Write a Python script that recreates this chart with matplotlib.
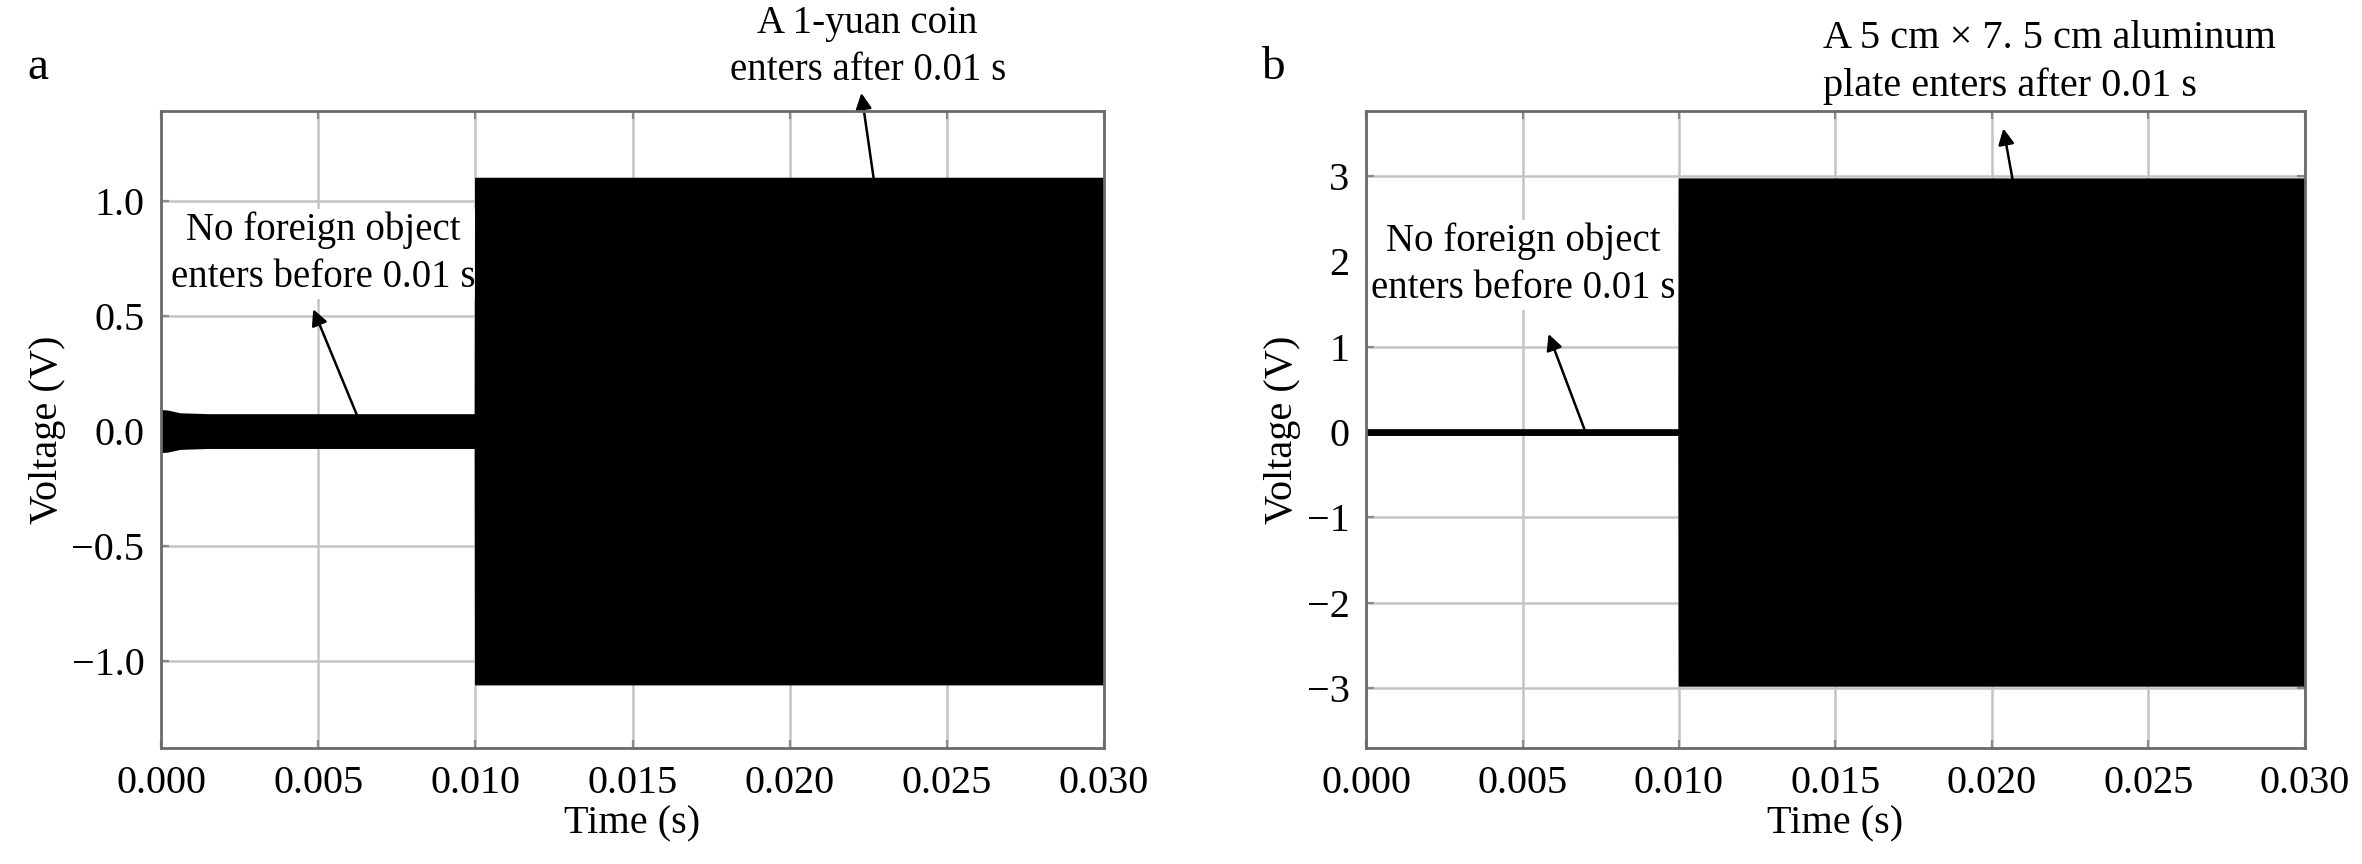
import matplotlib
matplotlib.use("Agg")
import matplotlib.pyplot as plt
import numpy as np

plt.rcParams["font.family"] = ["Liberation Serif", "DejaVu Serif"]
plt.rcParams["font.size"] = 14

t_coin = [0.0, 0.0002, 0.0006, 0.0015, 0.00999, 0.01, 0.03]
v_coin_hi = [0.09, 0.088, 0.076, 0.072, 0.072, 1.10, 1.10]
v_coin_lo = [-0.09, -0.088, -0.076, -0.072, -0.072, -1.10, -1.10]

t_plate = [0.0, 0.00999, 0.01, 0.03]
v_plate_hi = [0.03, 0.03, 2.97, 2.97]
v_plate_lo = [-0.03, -0.03, -2.97, -2.97]

xticks = [0.000, 0.005, 0.010, 0.015, 0.020, 0.025, 0.030]
yticks_a = [-1.0, -0.5, 0.0, 0.5, 1.0]
yticks_b = [-3, -2, -1, 0, 1, 2, 3]

fig = plt.figure(figsize=(11.81, 4.32), dpi=200)
ax_a = fig.add_axes([0.0682, 0.1337, 0.3992, 0.7374])
ax_b = fig.add_axes([0.5784, 0.1337, 0.3973, 0.7374])

box = dict(facecolor="white", edgecolor="none", pad=1)
arrow = dict(arrowstyle="-|>", color="black", lw=0.9, mutation_scale=12,
             shrinkA=0, shrinkB=0)
LS = 1.35
FS = 14


def style(ax):
    ax.set_xlim(0, 0.03)
    ax.set_xticks(xticks)
    ax.set_xticklabels([f"{x:.3f}" for x in xticks])
    ax.grid(True, color="#c4c4c4", lw=0.9)
    ax.set_axisbelow(True)
    for s in ax.spines.values():
        s.set_color("#6a6a6a")
        s.set_linewidth(1.0)
        s.set_zorder(5)
    ax.tick_params(direction="in", length=3, color="#8a8a8a", top=True, right=True,
                   labelsize=14.5, pad=6)
    ax.set_xlabel("Time (s)", fontsize=14.5, labelpad=1)
    ax.set_ylabel("Voltage (V)", fontsize=14.5, labelpad=2)


# panel a
ax_a.fill_between(t_coin, v_coin_lo, v_coin_hi, color="black", lw=0.6,
                  edgecolor="black", zorder=4)
style(ax_a)
ax_a.set_ylim(-1.38, 1.39)
ax_a.set_yticks(yticks_a)
ax_a.set_yticklabels([f"{y:.1f}".replace("-", "\u2212") for y in yticks_a])
ax_a.annotate("", xy=(0.00484, 0.53), xytext=(0.00623, 0.07), arrowprops=arrow)
ax_a.text(0.00515, 0.77, "No foreign object\nenters before 0.01 s", ha="center",
          va="center", fontsize=FS, linespacing=LS, bbox=box, zorder=3)
ax_a.annotate("", xy=(0.02228, 1.47), xytext=(0.02267, 1.10), arrowprops=arrow,
              annotation_clip=False)
ax_a.text(0.02248, 1.67, "A 1-yuan coin\nenters after 0.01 s", ha="center",
          va="center", fontsize=FS, linespacing=LS, clip_on=False)

# panel b
ax_b.fill_between(t_plate, v_plate_lo, v_plate_hi, color="black", lw=0.6,
                  edgecolor="black", zorder=4)
style(ax_b)
ax_b.set_ylim(-3.71, 3.76)
ax_b.set_yticks(yticks_b)
ax_b.annotate("", xy=(0.00583, 1.15), xytext=(0.00698, 0.03), arrowprops=arrow)
ax_b.text(0.00501, 1.96, "No foreign object\nenters before 0.01 s", ha="center",
          va="center", fontsize=FS, linespacing=LS, bbox=box, zorder=3)
ax_b.annotate("", xy=(0.02037, 3.56), xytext=(0.02066, 2.97), arrowprops=arrow,
              annotation_clip=False)
ax_b.text(0.0146, 4.33, "A 5 cm \u00d7 7. 5 cm aluminum\nplate enters after 0.01 s",
          ha="left", va="center", fontsize=14.5, linespacing=LS, clip_on=False)

fig.text(0.0115, 0.922, "a", fontsize=17, va="center")
fig.text(0.534, 0.922, "b", fontsize=17, va="center")

fig.savefig("out.png", dpi=200, facecolor="white")
